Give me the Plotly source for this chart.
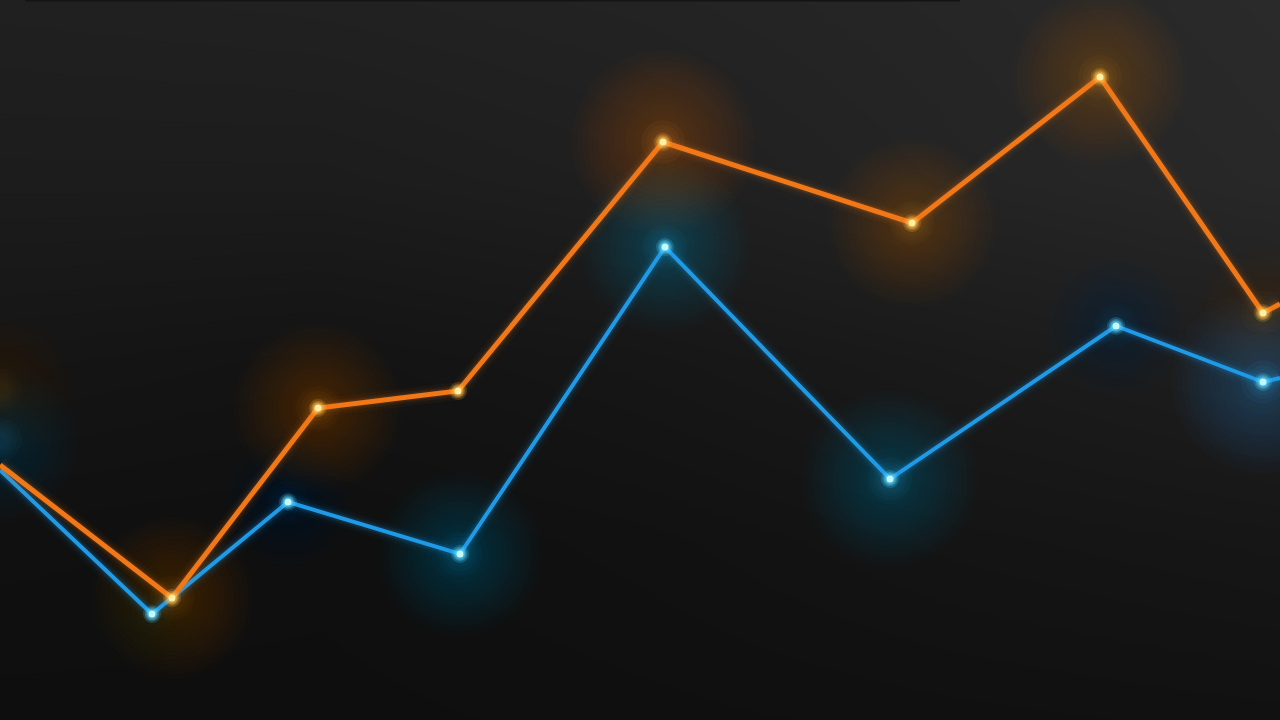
import plotly.graph_objects as go

# Data (x position along the axis, y value)
orange_x = [0, 172, 318, 458, 663, 912, 1100, 1263, 1280]
orange_y = [255, 122, 312, 329, 578, 497, 643, 407, 416]
blue_x = [0, 152, 288, 460, 665, 890, 1116, 1263, 1280]
blue_y = [250, 106, 218, 166, 473, 241, 394, 338, 342]

# glow strength per point (style)
orange_glow = [0.0, 0.9, 1.0, 0.0, 1.2, 1.0, 1.1, 0.4, 0.0]
blue_glow = [0.0, 0.3, 0.4, 0.9, 1.0, 1.1, 0.6, 1.2, 0.0]

ORANGE = "#f07818"
BLUE = "#1f9ae6"

fig = go.Figure()

# Background gradient (coarse grid smoothed)
bg_x = [0, 320, 640, 960, 1280]
bg_y = [0, 180, 360, 540, 720]
bg_z = [
    [14, 14, 15, 16, 17],
    [16, 15, 17, 20, 22],
    [21, 19, 22, 26, 30],
    [28, 28, 31, 36, 40],
    [32, 33, 35, 38, 42],
]
fig.add_trace(go.Heatmap(
    x=bg_x, y=bg_y, z=bg_z, zsmooth="best", showscale=False, hoverinfo="skip",
    zmin=0, zmax=255,
    colorscale=[[0, "rgb(0,0,0)"], [1, "rgb(255,255,255)"]],
))

GLOW_SIZES = list(range(170, 10, -10))
CORE_SIZES = [44, 34, 26, 20]


def glow_at(x, y, s, rgb, hot, base=0.022):
    sizes = [sz * (0.6 + 0.4 * s) for sz in GLOW_SIZES]
    fig.add_trace(go.Scatter(
        x=[x] * len(sizes), y=[y] * len(sizes), mode="markers", hoverinfo="skip", showlegend=False,
        marker=dict(size=sizes, color=f"rgba({rgb},{base * s:.4f})", line=dict(width=0)),
    ))
    fig.add_trace(go.Scatter(
        x=[x] * len(CORE_SIZES), y=[y] * len(CORE_SIZES), mode="markers", hoverinfo="skip",
        showlegend=False,
        marker=dict(size=CORE_SIZES, color=f"rgba({hot},{0.05 * s:.4f})", line=dict(width=0)),
    ))


for x, y, s in zip(orange_x, orange_y, orange_glow):
    if s > 0:
        glow_at(x, y, s, "240,120,24", "255,170,60")
for x, y, s in zip(blue_x, blue_y, blue_glow):
    if s > 0:
        glow_at(x, y, s, "30,160,240", "70,200,255")

# edge glows
glow_at(0, 330, 0.7, "200,110,40", "230,140,60")
glow_at(0, 280, 0.8, "40,150,220", "70,190,250")


def add_line(xs, ys, color, rgb, core, dot, halo):
    for w, op in [(18, 0.04), (12, 0.07), (8, 0.12)]:
        fig.add_trace(go.Scatter(x=xs, y=ys, mode="lines", hoverinfo="skip", showlegend=False,
                                 line=dict(color=f"rgba({rgb},{op})", width=w)))
    fig.add_trace(go.Scatter(x=xs, y=ys, mode="lines", showlegend=False,
                             line=dict(color=color, width=core)))
    for sz, op in [(18, 0.18), (14, 0.3), (11, 0.45)]:
        fig.add_trace(go.Scatter(x=xs[1:-1], y=ys[1:-1], mode="markers", showlegend=False,
                                 hoverinfo="skip",
                                 marker=dict(size=sz, color=f"rgba({halo},{op})", line=dict(width=0))))
    fig.add_trace(go.Scatter(x=xs[1:-1], y=ys[1:-1], mode="markers", showlegend=False,
                             marker=dict(size=7, color=dot, line=dict(width=0))))


add_line(blue_x, blue_y, BLUE, "30,160,240", 4, "#c4f8ff", "90,215,255")
add_line(orange_x, orange_y, ORANGE, "240,120,24", 5, "#fff0a8", "255,190,70")

fig.add_shape(type="line", x0=25, x1=960, y0=719.5, y1=719.5,
              line=dict(color="#141414", width=2))

fig.update_layout(
    width=1280, height=720,
    margin=dict(l=0, r=0, t=0, b=0),
    paper_bgcolor="#161616", plot_bgcolor="#161616",
    xaxis=dict(range=[0, 1280], visible=False, fixedrange=True),
    yaxis=dict(range=[0, 720], visible=False, fixedrange=True),
    showlegend=False,
)

fig.write_html(
    "out.html",
    config={"displayModeBar": False},
    post_script="document.body.style.margin='0';document.body.style.background='#161616';",
)
